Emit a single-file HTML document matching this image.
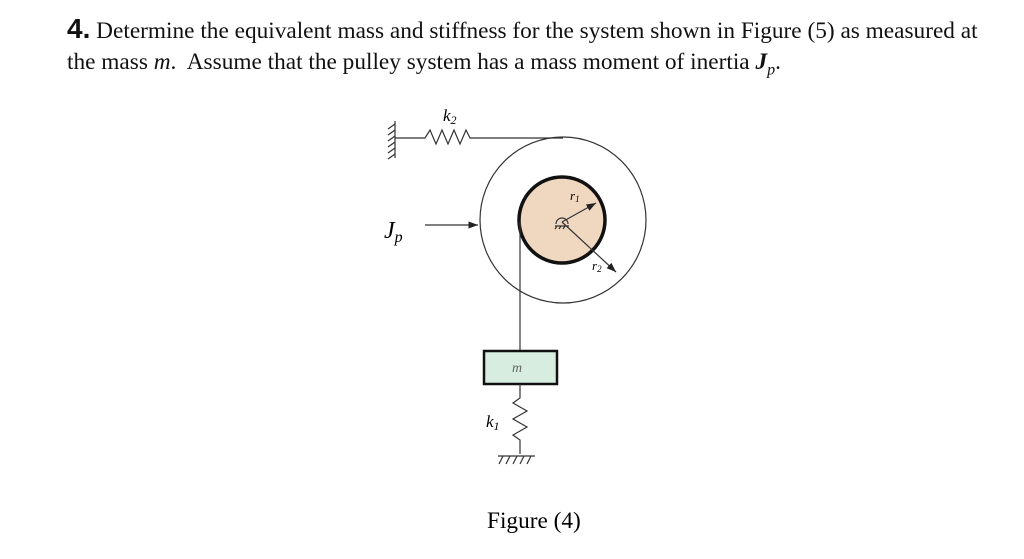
<!DOCTYPE html>
<html><head><style>
body{margin:0;width:1024px;height:559px;background:#fff;overflow:hidden;font-family:"Liberation Serif",serif;color:#111}
.t{position:absolute;left:67px;font-size:23.3px;white-space:nowrap}
</style></head><body>
<div class="t" style="top:13px"><b style="font-size:28px;font-family:'Liberation Sans',sans-serif">4.</b> Determine the equivalent mass and stiffness for the system shown in Figure (5) as measured at</div>
<div class="t" style="top:49px">the mass <i>m</i>.&nbsp; Assume that the pulley system has a mass moment of inertia <i><b>J</b><sub style="font-size:16px">p</sub></i>.</div>
<svg width="1024" height="559" style="position:absolute;left:0;top:0" font-family="Liberation Serif,serif">
<defs><marker id="a" markerWidth="8" markerHeight="6" refX="8" refY="3" orient="auto"><path d="M0,0L8,3L0,6z" fill="#222"/></marker></defs>
<g stroke="#333" fill="none" stroke-width="1.2">
<line x1="395" y1="121" x2="395" y2="158"/>
<path d="M395,124l-7,5M395,130l-7,5M395,136l-7,5M395,142l-7,5M395,148l-7,5M395,154l-7,5"/>
<path d="M395,138H425l5,-8l6,14l6,-14l6,14l6,-14l6,14l6,-14l4,8H563"/>
<circle cx="563" cy="220" r="83"/>
<circle cx="562" cy="220" r="43" fill="#f0d8c0" stroke="#111" stroke-width="3.5"/>
<line x1="520" y1="222" x2="520" y2="350"/>
<line x1="562" y1="222" x2="596" y2="203" marker-end="url(#a)"/>
<line x1="562" y1="222" x2="616" y2="272" marker-end="url(#a)"/>
<path d="M556,224a6,6 0 1 1 12,0"/><path d="M555,226h14M557,226l-2,3M561,226l-2,3M565,226l-2,3"/>
<line x1="425" y1="225" x2="478" y2="225" marker-end="url(#a)"/>
<rect x="484" y="351" width="73" height="33" fill="#d6ede0" stroke="#111" stroke-width="2.5"/>
<path d="M520,384v14l-7,5l14,8l-14,8l14,8l-14,8l7,5v14"/>
<path d="M498,456h37M503,456l-4,8M510,456l-4,8M517,456l-4,8M524,456l-4,8M531,456l-4,8"/>
</g>
<text x="443" y="121" font-size="17" font-style="italic">k<tspan font-size="12" dy="3">2</tspan></text>
<text x="570" y="200" font-size="13" font-style="italic">r<tspan font-size="9" dy="2">1</tspan></text>
<text x="592" y="270" font-size="13" font-style="italic">r<tspan font-size="9" dy="2">2</tspan></text>
<text x="384" y="238" font-size="24" font-style="italic">J<tspan font-size="16" dy="4">p</tspan></text>
<text x="512" y="372" font-size="14" font-style="italic" fill="#666">m</text>
<text x="486" y="427" font-size="17" font-style="italic">k<tspan font-size="12" dy="3">1</tspan></text>
<text x="487" y="528" font-size="23.3">Figure (4)</text>
</svg>
</body></html>
